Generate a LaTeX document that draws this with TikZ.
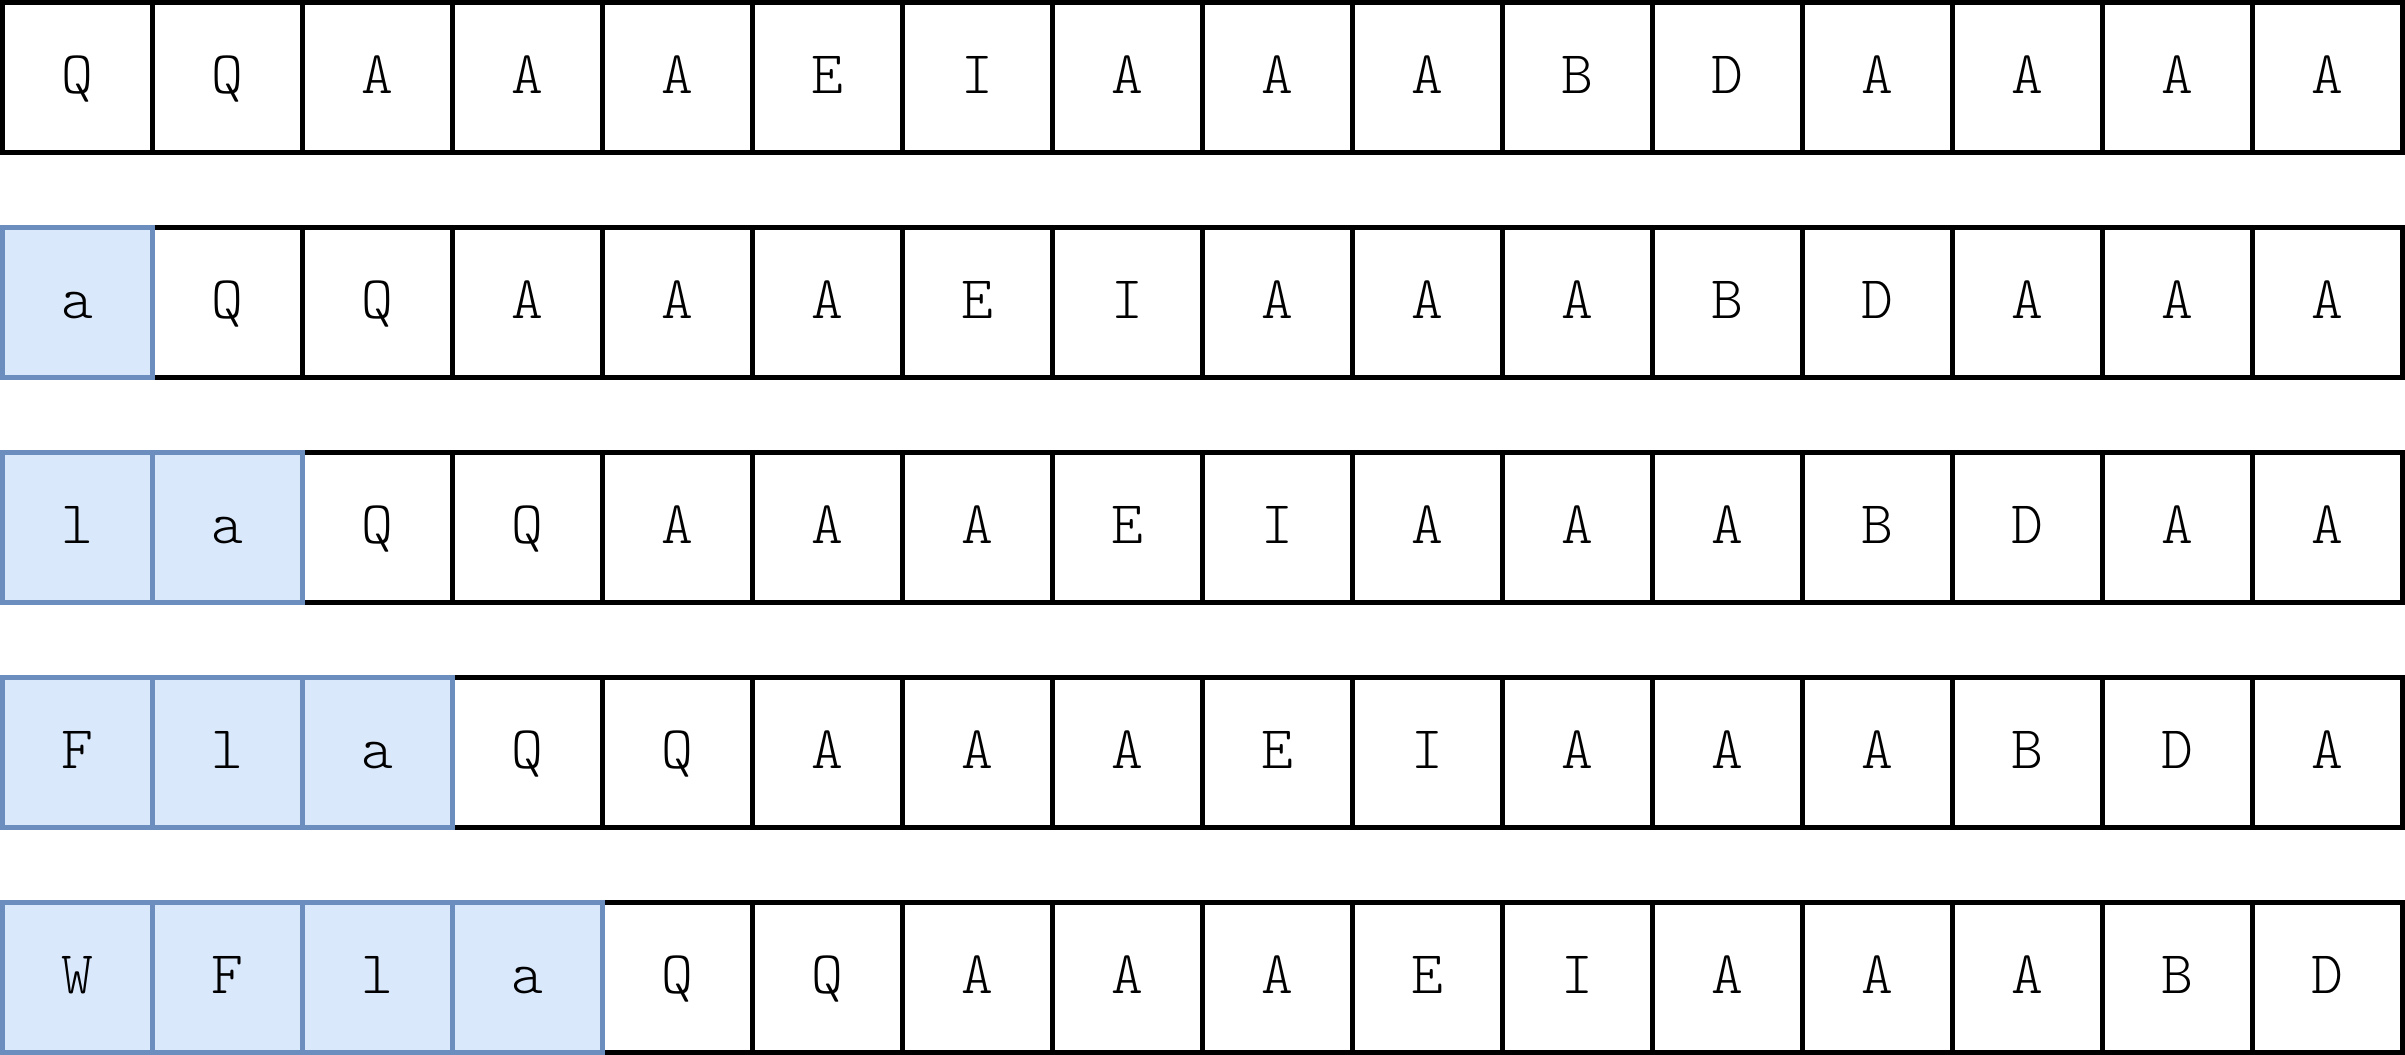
\documentclass[tikz,border=0pt]{standalone}
\usetikzlibrary{positioning}
\definecolor{padfill}{HTML}{DAE8FC}
\definecolor{padline}{HTML}{6C8EBF}

\begin{document}
\begin{tikzpicture}[cell/.style = {draw, line width = 0.9pt, minimum size = 1cm, inner sep = 0pt, outer sep = 0pt, text height = 1.42ex, text depth = 0pt, font = \ttfamily\fontseries{l}\fontsize{11.5}{13}\selectfont}, pad/.style = {cell, fill = padfill, draw = padline}]
        \useasboundingbox (-0.0167, -7.0167) rectangle (16.0167, 0.0167);

        % row 0: the input
        \foreach \t [count=\i] in {Q,Q,A,A,A,E,I,A,A,A,B,D,A,A,A,A}
                 {
                   \node [cell] (r0-\i) at (\i-0.5, -0.5) {\t};
                 }

        % row 1
        \foreach \t [count=\i] in {Q,Q,A,A,A,E,I,A,A,A,B,D,A,A,A}
                 {
                   \node [cell] (r1-\i) at (\i+0.5, -2) {\t};
                 }
        \foreach \t [count=\i] in {a}
                 {
                   \node [pad] (p1-\i) at (\i-0.5, -2) {\t};
                 }

        % row 2
        \foreach \t [count=\i] in {Q,Q,A,A,A,E,I,A,A,A,B,D,A,A}
                 {
                   \node [cell] (r2-\i) at (\i+1.5, -3.5) {\t};
                 }
        \foreach \t [count=\i] in {l,a}
                 {
                   \node [pad] (p2-\i) at (\i-0.5, -3.5) {\t};
                 }

        % row 3
        \foreach \t [count=\i] in {Q,Q,A,A,A,E,I,A,A,A,B,D,A}
                 {
                   \node [cell] (r3-\i) at (\i+2.5, -5) {\t};
                 }
        \foreach \t [count=\i] in {F,l,a}
                 {
                   \node [pad] (p3-\i) at (\i-0.5, -5) {\t};
                 }

        % row 4
        \foreach \t [count=\i] in {Q,Q,A,A,A,E,I,A,A,A,B,D}
                 {
                   \node [cell] (r4-\i) at (\i+3.5, -6.5) {\t};
                 }
        \foreach \t [count=\i] in {W,F,l,a}
                 {
                   \node [pad] (p4-\i) at (\i-0.5, -6.5) {\t};
                 }
\end{tikzpicture}
\end{document}
